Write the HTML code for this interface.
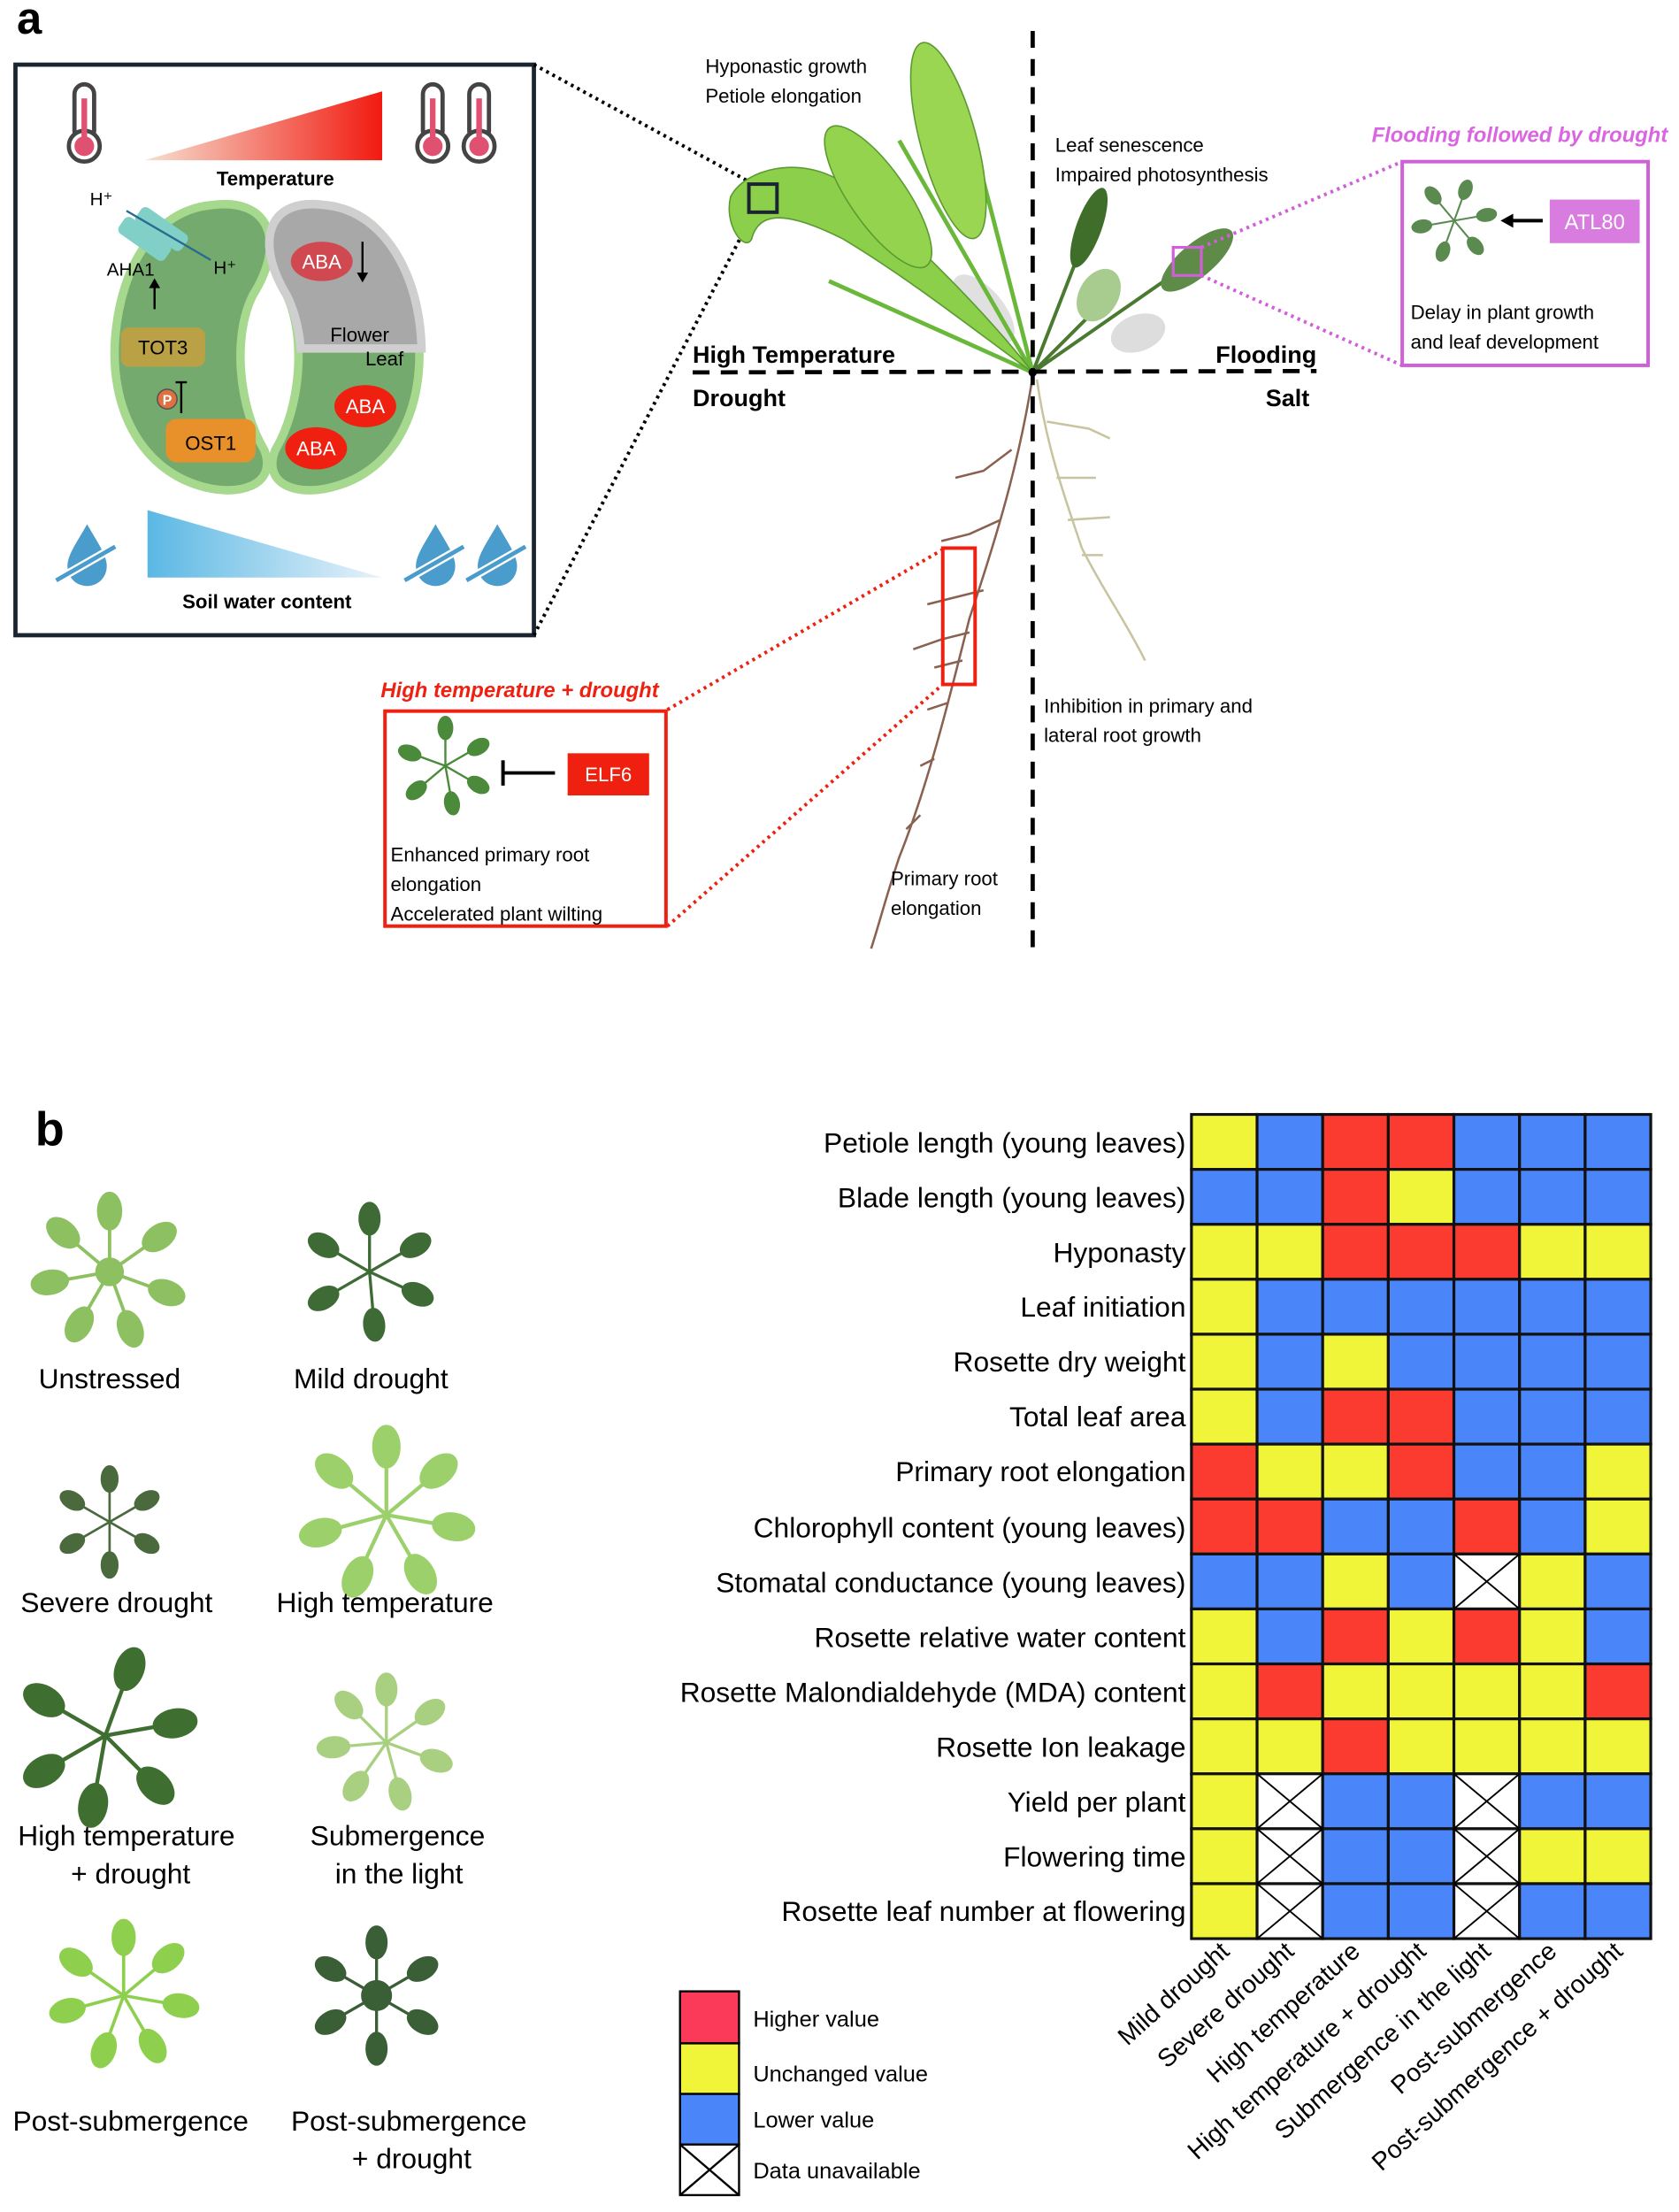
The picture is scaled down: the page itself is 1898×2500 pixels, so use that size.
<!DOCTYPE html>
<html><head><meta charset="utf-8"><style>
html,body{margin:0;padding:0;background:#fff}
svg{display:block}
text{font-family:"Liberation Sans","DejaVu Sans",sans-serif}
</style></head><body>
<svg width="1898" height="2500" viewBox="0 0 1195 1574" xmlns="http://www.w3.org/2000/svg">
<defs>
<linearGradient id="tg" x1="0" x2="1" y1="0" y2="0"><stop offset="0" stop-color="#f6e0d0"/><stop offset="1" stop-color="#f21a10"/></linearGradient>
<linearGradient id="wg" x1="0" x2="1" y1="0" y2="0"><stop offset="0" stop-color="#5ab8e4"/><stop offset="1" stop-color="#e8f2fa"/></linearGradient>
<g id="leaf"><line x1="0" y1="0" x2="0" y2="-26" stroke="inherit" stroke-width="2"/><ellipse cx="0" cy="-36" rx="7" ry="11"/></g>
<g id="therm"><rect x="-7" y="-28" width="14" height="40" rx="7" fill="#fff" stroke="#444" stroke-width="3"/><circle cx="0" cy="16" r="11" fill="#fff" stroke="#444" stroke-width="3"/><circle cx="0" cy="16" r="7" fill="#e05070"/><rect x="-2" y="-18" width="4" height="32" fill="#e05070"/></g>
<g id="drop"><path d="M0,-22 C8,-8 14,0 14,8 A14,14 0 0 1 -14,8 C-14,0 -8,-8 0,-22Z" fill="#4a9ccc"/><line x1="-22" y1="18" x2="20" y2="-6" stroke="#fff" stroke-width="6"/><line x1="-22" y1="18" x2="20" y2="-6" stroke="#4a9ccc" stroke-width="3"/></g>
</defs>

<!-- panel a -->
<text x="12" y="24" font-size="32" font-weight="bold">a</text>
<rect x="11" y="46" width="369" height="406" fill="#fff" stroke="#1a2530" stroke-width="3"/>
<use href="#therm" x="60" y="88"/><use href="#therm" x="308" y="88"/><use href="#therm" x="341" y="88"/>
<polygon points="103,114 272,65 272,114" fill="url(#tg)"/>
<text x="196" y="132" font-size="14" font-weight="bold" text-anchor="middle">Temperature</text>
<path d="M150,146 C190,140 205,170 180,210 C165,240 170,290 188,320 C198,345 170,355 140,345 C100,332 78,290 82,240 C86,190 110,150 150,146Z" fill="#74aa6e" stroke="#a6d88e" stroke-width="6"/>
<path d="M232,146 C192,140 180,170 204,210 C218,240 214,290 196,320 C186,345 212,355 242,345 C282,332 302,290 298,240 C294,190 272,150 232,146Z" fill="#74aa6e" stroke="#a6d88e" stroke-width="6"/>
<path d="M232,146 C192,140 180,170 204,210 C210,222 213,236 214,248 L300,248 C299,194 272,150 232,146Z" fill="#a8a8a8" stroke="#cfcfcf" stroke-width="6"/>
<rect x="96" y="150" width="14" height="40" rx="4" fill="#80d0c8" transform="rotate(-55 103 170)"/>
<rect x="108" y="143" width="14" height="40" rx="4" fill="#80d0c8" transform="rotate(-55 115 163)"/>
<line x1="150" y1="185" x2="90" y2="150" stroke="#2a6a90" stroke-width="1.5"/>
<text x="64" y="146" font-size="13">H⁺</text><text x="152" y="195" font-size="13">H⁺</text>
<text x="76" y="196" font-size="13">AHA1</text>
<line x1="110" y1="220" x2="110" y2="203" stroke="#000" stroke-width="1.5"/><polygon points="106,205 114,205 110,198"/>
<rect x="86" y="233" width="60" height="28" rx="6" fill="#c8a040" opacity="0.85"/><text x="116" y="252" font-size="14" text-anchor="middle">TOT3</text>
<circle cx="119" cy="284" r="7" fill="#e07040" stroke="#555"/><text x="119" y="288" font-size="10" fill="#fff" text-anchor="middle" font-weight="bold">P</text>
<line x1="129" y1="272" x2="129" y2="294" stroke="#000" stroke-width="1.5"/><line x1="125" y1="272" x2="133" y2="272" stroke="#000" stroke-width="1.5"/>
<rect x="118" y="298" width="64" height="31" rx="8" fill="#e8902a"/><text x="150" y="320" font-size="14" text-anchor="middle">OST1</text>
<ellipse cx="229" cy="186" rx="22" ry="14" fill="#d04850"/><text x="229" y="191" font-size="14" fill="#fff" text-anchor="middle">ABA</text>
<line x1="258" y1="172" x2="258" y2="196" stroke="#000" stroke-width="1.5"/><polygon points="254,194 262,194 258,201"/>
<text x="235" y="243" font-size="14">Flower</text><text x="260" y="260" font-size="14">Leaf</text>
<ellipse cx="260" cy="289" rx="22" ry="15" fill="#f02010"/><text x="260" y="294" font-size="14" fill="#fff" text-anchor="middle">ABA</text>
<ellipse cx="225" cy="319" rx="22" ry="15" fill="#f02010"/><text x="225" y="324" font-size="14" fill="#fff" text-anchor="middle">ABA</text>
<use href="#drop" x="62" y="395"/><use href="#drop" x="310" y="395"/><use href="#drop" x="354" y="395"/>
<polygon points="105,363 105,411 272,411" fill="url(#wg)"/>
<text x="190" y="433" font-size="14" font-weight="bold" text-anchor="middle">Soil water content</text>
<line x1="380" y1="46" x2="540" y2="133" stroke="#000" stroke-width="2.5" stroke-dasharray="2,3"/>
<line x1="380" y1="452" x2="537" y2="150" stroke="#000" stroke-width="2.5" stroke-dasharray="2,3"/>

<!-- central plant -->
<ellipse cx="700" cy="220" rx="14" ry="30" fill="#e0e0e0" transform="rotate(-40 700 220)"/>
<g stroke="#6ab83a" stroke-width="3" fill="none">
<path d="M735,265 L600,150"/><path d="M735,265 L640,100"/><path d="M735,265 L690,90"/><path d="M735,265 L590,200"/>
</g>
<path d="M735,265 C700,220 640,160 600,130 C570,110 530,120 520,140 C515,160 530,180 535,170 C540,150 560,150 600,170 C650,200 700,240 735,265Z" fill="#8ccf4a" stroke="#5a9a30"/>
<ellipse cx="625" cy="140" rx="20" ry="60" fill="#94d34e" stroke="#5a9a30" transform="rotate(-35 625 140)"/>
<ellipse cx="675" cy="100" rx="20" ry="72" fill="#9ad652" stroke="#5a9a30" transform="rotate(-15 675 100)"/>
<g stroke="#4a7a30" stroke-width="2.5"><line x1="735" y1="265" x2="770" y2="175"/><line x1="735" y1="265" x2="850" y2="185"/><line x1="735" y1="265" x2="780" y2="220"/></g>
<ellipse cx="775" cy="162" rx="9" ry="30" fill="#3e6e2a" transform="rotate(20 775 162)"/>
<ellipse cx="782" cy="210" rx="14" ry="20" fill="#a8cc90" transform="rotate(30 782 210)"/>
<ellipse cx="852" cy="185" rx="12" ry="32" fill="#5e8c48" transform="rotate(50 852 185)"/>
<ellipse cx="810" cy="237" rx="20" ry="13" fill="#ddd" transform="rotate(-20 810 237)"/>
<g fill="none" stroke="#8a6050" stroke-width="1.6">
<path d="M735,268 C725,330 710,380 690,440 C675,500 660,560 640,610 C630,640 625,660 620,675"/>
<path d="M720,320 L700,335 L680,340"/><path d="M712,370 L690,380 L670,385"/><path d="M700,420 L680,425 L660,430"/><path d="M690,450 L670,455 L650,462"/><path d="M685,470 L665,475"/><path d="M675,500 L660,505"/><path d="M665,540 L655,545"/><path d="M655,580 L645,590"/>
</g>
<g fill="none" stroke="#c8c4a0" stroke-width="1.6">
<path d="M738,270 C745,320 760,360 770,390 C785,420 800,440 815,470"/><path d="M745,300 L775,305 L790,312"/><path d="M752,340 L780,340"/><path d="M760,370 L790,368"/><path d="M770,395 L785,395"/>
</g>
<line x1="735" y1="22" x2="735" y2="680" stroke="#000" stroke-width="3" stroke-dasharray="12,8"/>
<line x1="493" y1="265" x2="937" y2="264" stroke="#000" stroke-width="3" stroke-dasharray="12,8"/>
<circle cx="735" cy="265" r="3"/>
<text x="502" y="52" font-size="14">Hyponastic growth</text><text x="502" y="73" font-size="14">Petiole elongation</text>
<text x="751" y="108" font-size="14">Leaf senescence</text><text x="751" y="129" font-size="14">Impaired photosynthesis</text>
<text x="493" y="258" font-size="17" font-weight="bold">High Temperature</text>
<text x="493" y="289" font-size="17" font-weight="bold">Drought</text>
<text x="937" y="258" font-size="17" font-weight="bold" text-anchor="end">Flooding</text>
<text x="932" y="289" font-size="17" font-weight="bold" text-anchor="end">Salt</text>
<text x="743" y="507" font-size="14">Inhibition in primary and</text><text x="743" y="528" font-size="14">lateral root growth</text>
<text x="634" y="630" font-size="14">Primary root</text><text x="634" y="651" font-size="14">elongation</text>
<rect x="533" y="131" width="20" height="20" fill="none" stroke="#1a2530" stroke-width="2.5"/>
<rect x="671" y="390" width="23" height="97" fill="none" stroke="#f02010" stroke-width="2.5"/>
<line x1="475" y1="505" x2="671" y2="391" stroke="#f02010" stroke-width="2.5" stroke-dasharray="2,3"/>
<line x1="475" y1="659" x2="671" y2="487" stroke="#f02010" stroke-width="2.5" stroke-dasharray="2,3"/>
<text x="271" y="496" font-size="15" font-weight="bold" font-style="italic" fill="#f02010">High temperature + drought</text>
<rect x="274" y="506" width="200" height="153" fill="#fff" stroke="#f02010" stroke-width="2.5"/>
<g transform="translate(317,545) scale(0.75)" fill="#4a8a3a" stroke="#4a8a3a"><use href="#leaf" transform="rotate(0)"/><use href="#leaf" transform="rotate(60)"/><use href="#leaf" transform="rotate(120)"/><use href="#leaf" transform="rotate(170)"/><use href="#leaf" transform="rotate(230)"/><use href="#leaf" transform="rotate(290)"/></g>
<line x1="358" y1="550" x2="395" y2="550" stroke="#000" stroke-width="2.5"/><line x1="358" y1="541" x2="358" y2="559" stroke="#000" stroke-width="2.5"/>
<rect x="404" y="536" width="58" height="30" fill="#f02010"/><text x="433" y="556" font-size="14" fill="#fff" text-anchor="middle">ELF6</text>
<text x="278" y="613" font-size="14">Enhanced primary root</text><text x="278" y="634" font-size="14">elongation</text><text x="278" y="655" font-size="14">Accelerated plant wilting</text>
<rect x="835" y="176" width="20" height="20" fill="none" stroke="#d060d8" stroke-width="2"/>
<line x1="855" y1="176" x2="998" y2="115" stroke="#d060d8" stroke-width="2.5" stroke-dasharray="2,3"/>
<line x1="855" y1="196" x2="998" y2="260" stroke="#d060d8" stroke-width="2.5" stroke-dasharray="2,3"/>
<text x="1187" y="101" font-size="15" font-weight="bold" font-style="italic" fill="#d966e0" text-anchor="end">Flooding followed by drought</text>
<rect x="998" y="115" width="175" height="145" fill="#fff" stroke="#d060d8" stroke-width="2.5"/>
<g transform="translate(1035,157) scale(0.65)" fill="#5a8a50" stroke="#5a8a50"><use href="#leaf" transform="rotate(20)"/><use href="#leaf" transform="rotate(80)"/><use href="#leaf" transform="rotate(140)"/><use href="#leaf" transform="rotate(200)"/><use href="#leaf" transform="rotate(260)"/><use href="#leaf" transform="rotate(320)"/></g>
<line x1="1073" y1="157" x2="1098" y2="157" stroke="#000" stroke-width="2.5"/><polygon points="1068,157 1077,152 1077,162"/>
<rect x="1103" y="142" width="64" height="31" fill="#d87ce0"/><text x="1135" y="163" font-size="15" fill="#fff" text-anchor="middle">ATL80</text>
<text x="1004" y="227" font-size="14">Delay in plant growth</text><text x="1004" y="248" font-size="14">and leaf development</text>

<!-- panel b -->
<text x="25" y="815" font-size="34" font-weight="bold">b</text>
<g fill="#8cc060" stroke="#8cc060" transform="translate(78,905) scale(1.2)"><use href="#leaf"/><use href="#leaf" transform="rotate(55)"/><use href="#leaf" transform="rotate(110)"/><use href="#leaf" transform="rotate(160)"/><use href="#leaf" transform="rotate(210)"/><use href="#leaf" transform="rotate(260)"/><use href="#leaf" transform="rotate(310)"/><circle r="8"/></g>
<g fill="#3e6a36" stroke="#3e6a36" transform="translate(263,905) scale(1.05)"><use href="#leaf"/><use href="#leaf" transform="rotate(60)"/><use href="#leaf" transform="rotate(115)"/><use href="#leaf" transform="rotate(175)"/><use href="#leaf" transform="rotate(240)"/><use href="#leaf" transform="rotate(300)"/></g>
<g fill="#4a6a3e" stroke="#4a6a3e" transform="translate(78,1083) scale(0.85)"><use href="#leaf"/><use href="#leaf" transform="rotate(60)"/><use href="#leaf" transform="rotate(120)"/><use href="#leaf" transform="rotate(180)"/><use href="#leaf" transform="rotate(240)"/><use href="#leaf" transform="rotate(300)"/></g>
<g fill="#9cd06a" stroke="#9cd06a" transform="translate(275,1078) scale(1.35)"><use href="#leaf"/><use href="#leaf" transform="rotate(50)"/><use href="#leaf" transform="rotate(100)"/><use href="#leaf" transform="rotate(150)"/><use href="#leaf" transform="rotate(205)"/><use href="#leaf" transform="rotate(255)"/><use href="#leaf" transform="rotate(310)"/></g>
<g fill="#3e6e30" stroke="#3e6e30" transform="translate(75,1235) scale(1.4)"><use href="#leaf" transform="rotate(20)"/><use href="#leaf" transform="rotate(80)"/><use href="#leaf" transform="rotate(135)"/><use href="#leaf" transform="rotate(190)"/><use href="#leaf" transform="rotate(240)"/><use href="#leaf" transform="rotate(300)"/></g>
<g fill="#a8d080" stroke="#a8d080" transform="translate(275,1240) scale(1.05)"><use href="#leaf"/><use href="#leaf" transform="rotate(55)"/><use href="#leaf" transform="rotate(110)"/><use href="#leaf" transform="rotate(165)"/><use href="#leaf" transform="rotate(215)"/><use href="#leaf" transform="rotate(265)"/><use href="#leaf" transform="rotate(315)"/></g>
<g fill="#8ed04e" stroke="#8ed04e" transform="translate(88,1420) scale(1.15)"><use href="#leaf"/><use href="#leaf" transform="rotate(50)"/><use href="#leaf" transform="rotate(100)"/><use href="#leaf" transform="rotate(150)"/><use href="#leaf" transform="rotate(200)"/><use href="#leaf" transform="rotate(255)"/><use href="#leaf" transform="rotate(305)"/></g>
<g fill="#3a5e36" stroke="#3a5e36" transform="translate(268,1420) scale(1.05)"><use href="#leaf"/><use href="#leaf" transform="rotate(60)"/><use href="#leaf" transform="rotate(120)"/><use href="#leaf" transform="rotate(180)"/><use href="#leaf" transform="rotate(240)"/><use href="#leaf" transform="rotate(300)"/><circle r="10"/></g>
<g font-size="20" text-anchor="middle">
<text x="78" y="988">Unstressed</text><text x="264" y="988">Mild drought</text>
<text x="83" y="1147">Severe drought</text><text x="274" y="1147">High temperature</text>
<text x="90" y="1313">High temperature</text><text x="93" y="1340">+ drought</text>
<text x="283" y="1313">Submergence</text><text x="284" y="1340">in the light</text>
<text x="93" y="1516">Post-submergence</text><text x="291" y="1516">Post-submergence</text><text x="293" y="1543">+ drought</text>
</g>

<g font-size="20" text-anchor="end">
<text x="844" y="820">Petiole length (young leaves)</text>
<text x="844" y="859">Blade length (young leaves)</text>
<text x="844" y="898">Hyponasty</text>
<text x="844" y="937">Leaf initiation</text>
<text x="844" y="976">Rosette dry weight</text>
<text x="844" y="1015">Total leaf area</text>
<text x="844" y="1054">Primary root elongation</text>
<text x="844" y="1094">Chlorophyll content (young leaves)</text>
<text x="844" y="1133">Stomatal conductance (young leaves)</text>
<text x="844" y="1172">Rosette relative water content</text>
<text x="844" y="1211">Rosette Malondialdehyde (MDA) content</text>
<text x="844" y="1250">Rosette Ion leakage</text>
<text x="844" y="1289">Yield per plant</text>
<text x="844" y="1328">Flowering time</text>
<text x="844" y="1367">Rosette leaf number at flowering</text>
</g>
<g stroke="#111" stroke-width="2">
<rect x="848" y="793" width="46.7" height="39.1" fill="#f0f53a"/><rect x="894.7" y="793" width="46.7" height="39.1" fill="#4a86fa"/><rect x="941.4" y="793" width="46.7" height="39.1" fill="#fb3a30"/><rect x="988.1" y="793" width="46.7" height="39.1" fill="#fb3a30"/><rect x="1034.8" y="793" width="46.7" height="39.1" fill="#4a86fa"/><rect x="1081.5" y="793" width="46.7" height="39.1" fill="#4a86fa"/><rect x="1128.2" y="793" width="46.7" height="39.1" fill="#4a86fa"/>
<rect x="848" y="832.1" width="46.7" height="39.1" fill="#4a86fa"/><rect x="894.7" y="832.1" width="46.7" height="39.1" fill="#4a86fa"/><rect x="941.4" y="832.1" width="46.7" height="39.1" fill="#fb3a30"/><rect x="988.1" y="832.1" width="46.7" height="39.1" fill="#f0f53a"/><rect x="1034.8" y="832.1" width="46.7" height="39.1" fill="#4a86fa"/><rect x="1081.5" y="832.1" width="46.7" height="39.1" fill="#4a86fa"/><rect x="1128.2" y="832.1" width="46.7" height="39.1" fill="#4a86fa"/>
<rect x="848" y="871.2" width="46.7" height="39.1" fill="#f0f53a"/><rect x="894.7" y="871.2" width="46.7" height="39.1" fill="#f0f53a"/><rect x="941.4" y="871.2" width="46.7" height="39.1" fill="#fb3a30"/><rect x="988.1" y="871.2" width="46.7" height="39.1" fill="#fb3a30"/><rect x="1034.8" y="871.2" width="46.7" height="39.1" fill="#fb3a30"/><rect x="1081.5" y="871.2" width="46.7" height="39.1" fill="#f0f53a"/><rect x="1128.2" y="871.2" width="46.7" height="39.1" fill="#f0f53a"/>
<rect x="848" y="910.3" width="46.7" height="39.1" fill="#f0f53a"/><rect x="894.7" y="910.3" width="46.7" height="39.1" fill="#4a86fa"/><rect x="941.4" y="910.3" width="46.7" height="39.1" fill="#4a86fa"/><rect x="988.1" y="910.3" width="46.7" height="39.1" fill="#4a86fa"/><rect x="1034.8" y="910.3" width="46.7" height="39.1" fill="#4a86fa"/><rect x="1081.5" y="910.3" width="46.7" height="39.1" fill="#4a86fa"/><rect x="1128.2" y="910.3" width="46.7" height="39.1" fill="#4a86fa"/>
<rect x="848" y="949.4" width="46.7" height="39.1" fill="#f0f53a"/><rect x="894.7" y="949.4" width="46.7" height="39.1" fill="#4a86fa"/><rect x="941.4" y="949.4" width="46.7" height="39.1" fill="#f0f53a"/><rect x="988.1" y="949.4" width="46.7" height="39.1" fill="#4a86fa"/><rect x="1034.8" y="949.4" width="46.7" height="39.1" fill="#4a86fa"/><rect x="1081.5" y="949.4" width="46.7" height="39.1" fill="#4a86fa"/><rect x="1128.2" y="949.4" width="46.7" height="39.1" fill="#4a86fa"/>
<rect x="848" y="988.5" width="46.7" height="39.1" fill="#f0f53a"/><rect x="894.7" y="988.5" width="46.7" height="39.1" fill="#4a86fa"/><rect x="941.4" y="988.5" width="46.7" height="39.1" fill="#fb3a30"/><rect x="988.1" y="988.5" width="46.7" height="39.1" fill="#fb3a30"/><rect x="1034.8" y="988.5" width="46.7" height="39.1" fill="#4a86fa"/><rect x="1081.5" y="988.5" width="46.7" height="39.1" fill="#4a86fa"/><rect x="1128.2" y="988.5" width="46.7" height="39.1" fill="#4a86fa"/>
<rect x="848" y="1027.6" width="46.7" height="39.1" fill="#fb3a30"/><rect x="894.7" y="1027.6" width="46.7" height="39.1" fill="#f0f53a"/><rect x="941.4" y="1027.6" width="46.7" height="39.1" fill="#f0f53a"/><rect x="988.1" y="1027.6" width="46.7" height="39.1" fill="#fb3a30"/><rect x="1034.8" y="1027.6" width="46.7" height="39.1" fill="#4a86fa"/><rect x="1081.5" y="1027.6" width="46.7" height="39.1" fill="#4a86fa"/><rect x="1128.2" y="1027.6" width="46.7" height="39.1" fill="#f0f53a"/>
<rect x="848" y="1066.7" width="46.7" height="39.1" fill="#fb3a30"/><rect x="894.7" y="1066.7" width="46.7" height="39.1" fill="#fb3a30"/><rect x="941.4" y="1066.7" width="46.7" height="39.1" fill="#4a86fa"/><rect x="988.1" y="1066.7" width="46.7" height="39.1" fill="#4a86fa"/><rect x="1034.8" y="1066.7" width="46.7" height="39.1" fill="#fb3a30"/><rect x="1081.5" y="1066.7" width="46.7" height="39.1" fill="#4a86fa"/><rect x="1128.2" y="1066.7" width="46.7" height="39.1" fill="#f0f53a"/>
<rect x="848" y="1105.8" width="46.7" height="39.1" fill="#4a86fa"/><rect x="894.7" y="1105.8" width="46.7" height="39.1" fill="#4a86fa"/><rect x="941.4" y="1105.8" width="46.7" height="39.1" fill="#f0f53a"/><rect x="988.1" y="1105.8" width="46.7" height="39.1" fill="#4a86fa"/><rect x="1034.8" y="1105.8" width="46.7" height="39.1" fill="#fff"/><rect x="1081.5" y="1105.8" width="46.7" height="39.1" fill="#f0f53a"/><rect x="1128.2" y="1105.8" width="46.7" height="39.1" fill="#4a86fa"/>
<rect x="848" y="1144.9" width="46.7" height="39.1" fill="#f0f53a"/><rect x="894.7" y="1144.9" width="46.7" height="39.1" fill="#4a86fa"/><rect x="941.4" y="1144.9" width="46.7" height="39.1" fill="#fb3a30"/><rect x="988.1" y="1144.9" width="46.7" height="39.1" fill="#f0f53a"/><rect x="1034.8" y="1144.9" width="46.7" height="39.1" fill="#fb3a30"/><rect x="1081.5" y="1144.9" width="46.7" height="39.1" fill="#f0f53a"/><rect x="1128.2" y="1144.9" width="46.7" height="39.1" fill="#4a86fa"/>
<rect x="848" y="1184" width="46.7" height="39.1" fill="#f0f53a"/><rect x="894.7" y="1184" width="46.7" height="39.1" fill="#fb3a30"/><rect x="941.4" y="1184" width="46.7" height="39.1" fill="#f0f53a"/><rect x="988.1" y="1184" width="46.7" height="39.1" fill="#f0f53a"/><rect x="1034.8" y="1184" width="46.7" height="39.1" fill="#f0f53a"/><rect x="1081.5" y="1184" width="46.7" height="39.1" fill="#f0f53a"/><rect x="1128.2" y="1184" width="46.7" height="39.1" fill="#fb3a30"/>
<rect x="848" y="1223.1" width="46.7" height="39.1" fill="#f0f53a"/><rect x="894.7" y="1223.1" width="46.7" height="39.1" fill="#f0f53a"/><rect x="941.4" y="1223.1" width="46.7" height="39.1" fill="#fb3a30"/><rect x="988.1" y="1223.1" width="46.7" height="39.1" fill="#f0f53a"/><rect x="1034.8" y="1223.1" width="46.7" height="39.1" fill="#f0f53a"/><rect x="1081.5" y="1223.1" width="46.7" height="39.1" fill="#f0f53a"/><rect x="1128.2" y="1223.1" width="46.7" height="39.1" fill="#f0f53a"/>
<rect x="848" y="1262.2" width="46.7" height="39.1" fill="#f0f53a"/><rect x="894.7" y="1262.2" width="46.7" height="39.1" fill="#fff"/><rect x="941.4" y="1262.2" width="46.7" height="39.1" fill="#4a86fa"/><rect x="988.1" y="1262.2" width="46.7" height="39.1" fill="#4a86fa"/><rect x="1034.8" y="1262.2" width="46.7" height="39.1" fill="#fff"/><rect x="1081.5" y="1262.2" width="46.7" height="39.1" fill="#4a86fa"/><rect x="1128.2" y="1262.2" width="46.7" height="39.1" fill="#4a86fa"/>
<rect x="848" y="1301.3" width="46.7" height="39.1" fill="#f0f53a"/><rect x="894.7" y="1301.3" width="46.7" height="39.1" fill="#fff"/><rect x="941.4" y="1301.3" width="46.7" height="39.1" fill="#4a86fa"/><rect x="988.1" y="1301.3" width="46.7" height="39.1" fill="#4a86fa"/><rect x="1034.8" y="1301.3" width="46.7" height="39.1" fill="#fff"/><rect x="1081.5" y="1301.3" width="46.7" height="39.1" fill="#f0f53a"/><rect x="1128.2" y="1301.3" width="46.7" height="39.1" fill="#f0f53a"/>
<rect x="848" y="1340.4" width="46.7" height="39.1" fill="#f0f53a"/><rect x="894.7" y="1340.4" width="46.7" height="39.1" fill="#fff"/><rect x="941.4" y="1340.4" width="46.7" height="39.1" fill="#4a86fa"/><rect x="988.1" y="1340.4" width="46.7" height="39.1" fill="#4a86fa"/><rect x="1034.8" y="1340.4" width="46.7" height="39.1" fill="#fff"/><rect x="1081.5" y="1340.4" width="46.7" height="39.1" fill="#4a86fa"/><rect x="1128.2" y="1340.4" width="46.7" height="39.1" fill="#4a86fa"/>
</g>
<g stroke="#000" stroke-width="1.2">
<path d="M1034.8,1105.8 L1081.5,1144.9 M1081.5,1105.8 L1034.8,1144.9"/>
<path d="M894.7,1262.2 L941.4,1301.3 M941.4,1262.2 L894.7,1301.3 M894.7,1301.3 L941.4,1340.4 M941.4,1301.3 L894.7,1340.4 M894.7,1340.4 L941.4,1379.5 M941.4,1340.4 L894.7,1379.5"/>
<path d="M1034.8,1262.2 L1081.5,1301.3 M1081.5,1262.2 L1034.8,1301.3 M1034.8,1301.3 L1081.5,1340.4 M1081.5,1301.3 L1034.8,1340.4 M1034.8,1340.4 L1081.5,1379.5 M1081.5,1340.4 L1034.8,1379.5"/>
</g>
<g font-size="18" text-anchor="end">
<text transform="translate(876,1390) rotate(-42)">Mild drought</text>
<text transform="translate(922,1390) rotate(-42)">Severe drought</text>
<text transform="translate(969,1390) rotate(-42)">High temperature</text>
<text transform="translate(1016,1390) rotate(-42)">High temperature + drought</text>
<text transform="translate(1062,1390) rotate(-42)">Submergence in the light</text>
<text transform="translate(1109,1390) rotate(-42)">Post-submergence</text>
<text transform="translate(1156,1390) rotate(-42)">Post-submergence + drought</text>
</g>
<g stroke="#000" stroke-width="1.5">
<rect x="484" y="1417" width="42" height="37" fill="#fb3a5a"/>
<rect x="484" y="1454" width="42" height="36" fill="#f0f53a"/>
<rect x="484" y="1490" width="42" height="36" fill="#4a86fa"/>
<rect x="484" y="1526" width="42" height="36" fill="#fff"/>
<path d="M484,1526 L526,1562 M526,1526 L484,1562"/>
</g>
<g font-size="16">
<text x="536" y="1442">Higher value</text>
<text x="536" y="1481">Unchanged value</text>
<text x="536" y="1514">Lower value</text>
<text x="536" y="1550">Data unavailable</text>
</g>
</svg>
</body></html>
